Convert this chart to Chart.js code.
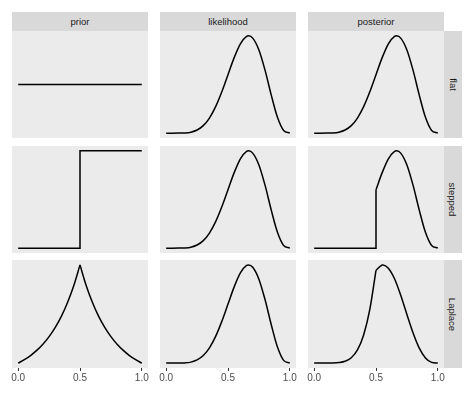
<!DOCTYPE html>
<html lang="en">
<head>
<meta charset="UTF-8">
<title>prior / likelihood / posterior</title>
<script src="https://cdn.jsdelivr.net/npm/chart.js"></script>
<style>
    body { margin: 0; background: #fff; font-family: "Liberation Sans", Arial, sans-serif; }
    #page { position: relative; width: 474px; height: 395px; }
    .panel { position: absolute; background: #EBEBEB; }
    .strip { position: absolute; background: #D9D9D9; color: #1A1A1A; font-size: 9.5px;
             display: flex; align-items: center; justify-content: center; }
    .strip.right span { transform: rotate(90deg); white-space: nowrap; }
    canvas { position: absolute; }
</style>
</head>
<body>
<div id="page"></div>

<script>
    // facet labels
    const columnNames = ['prior', 'likelihood', 'posterior'];
    const rowNames = ['flat', 'stepped', 'Laplace'];
    const xTicks = [0, 0.5, 1];

    // likelihood (peak scaled to 1)
    const gridX = [0, 0.05, 0.1, 0.15, 0.2, 0.25, 0.3, 0.35, 0.4, 0.45, 0.5, 0.55, 0.6, 0.65, 0.667, 0.7, 0.75, 0.8, 0.85, 0.9, 0.95, 1];
    const likelihood = [0, 0, 0.0002, 0.002, 0.010, 0.032, 0.077, 0.155, 0.272, 0.425, 0.601, 0.776, 0.918, 0.995, 1, 0.977, 0.855, 0.645, 0.391, 0.163, 0.028, 0];

    // flat prior
    const flatX = [0, 1];
    const flatPrior = [1, 1];

    // stepped prior (jump at 0.5)
    const stepX = [0, 0.5, 0.5, 1];
    const steppedPrior = [0, 0, 1, 1];
    const steppedPostLeftX = [0, 0.5, 0.5];
    const steppedPostLeft = [0, 0, 0.601];

    // Laplace prior, both halves
    const leftX = [0, 0.05, 0.1, 0.15, 0.2, 0.25, 0.3, 0.35, 0.4, 0.45, 0.5];
    const rightX = [0.5, 0.55, 0.6, 0.65, 0.7, 0.75, 0.8, 0.85, 0.9, 0.95, 1];
    const laplacePriorLeft = [0, 0.035, 0.077, 0.129, 0.192, 0.269, 0.363, 0.478, 0.619, 0.790, 1];
    const laplacePriorRight = [1, 0.790, 0.619, 0.478, 0.363, 0.269, 0.192, 0.129, 0.077, 0.035, 0];

    // Laplace posterior
    const laplacePostLeft = [0, 0, 0.0001, 0.0008, 0.005, 0.018, 0.054, 0.134, 0.287, 0.547, 0.945];
    const laplacePostRightX = [0.5, 0.55, 0.557, 0.6, 0.65, 0.7, 0.75, 0.8, 0.85, 0.9, 0.95, 1];
    const laplacePostRight = [0.945, 0.999, 1, 0.967, 0.859, 0.690, 0.495, 0.306, 0.152, 0.052, 0.007, 0];

    // layout
    const colLeft = [12, 160, 308];
    const colWidth = 136;
    const rowTop = [31, 146, 260];
    const rowHeight = [107, 107, 108];
    const stripTop = 12, stripH = 19;
    const stripRightX = 444, stripRightW = 18;
    const axisH = 22, sidePad = 10;

    const seg = (x, y) => ({ x: x, y: y });
    const iRight = gridX.indexOf(0.5);

    const panels = [
        [[seg(flatX, flatPrior)], [seg(gridX, likelihood)], [seg(gridX, likelihood)]],
        [[seg(stepX, steppedPrior)], [seg(gridX, likelihood)],
         [seg(steppedPostLeftX, steppedPostLeft), seg(gridX.slice(iRight), likelihood.slice(iRight))]],
        [[seg(leftX, laplacePriorLeft), seg(rightX, laplacePriorRight)], [seg(gridX, likelihood)],
         [seg(leftX, laplacePostLeft), seg(laplacePostRightX, laplacePostRight)]]
    ];

    Chart.defaults.font.family = '"Liberation Sans", Arial, sans-serif';

    const page = document.getElementById('page');

    function addDiv(cls, left, top, w, h, text) {
        const d = document.createElement('div');
        d.className = cls;
        d.style.left = left + 'px';
        d.style.top = top + 'px';
        d.style.width = w + 'px';
        d.style.height = h + 'px';
        if (text) {
            const s = document.createElement('span');
            s.textContent = text;
            d.appendChild(s);
        }
        page.appendChild(d);
    }

    // strips
    columnNames.forEach((name, c) => addDiv('strip', colLeft[c], stripTop, colWidth, stripH, name));
    rowNames.forEach((name, r) => addDiv('strip right', stripRightX, rowTop[r], stripRightW, rowHeight[r], name));

    // y range like ggplot free scales
    function yRange(segs) {
        let lo = Infinity, hi = -Infinity;
        segs.forEach(s => s.y.forEach(v => { lo = Math.min(lo, v); hi = Math.max(hi, v); }));
        if (hi - lo < 1e-9) return [lo - 0.5, hi + 0.5];
        const pad = (hi - lo) * 0.05;
        return [lo - pad, hi + pad];
    }

    panels.forEach((row, r) => {
        row.forEach((segs, c) => {
            const bottom = r === panels.length - 1;
            addDiv('panel', colLeft[c], rowTop[r], colWidth, rowHeight[r]);

            const cv = document.createElement('canvas');
            cv.width = colWidth + 2 * sidePad;
            cv.height = rowHeight[r] + (bottom ? axisH : 0);
            cv.style.left = (colLeft[c] - sidePad) + 'px';
            cv.style.top = rowTop[r] + 'px';
            page.appendChild(cv);

            const yr = yRange(segs);

            new Chart(cv.getContext('2d'), {
                type: 'line',
                data: {
                    datasets: segs.map(s => ({
                        data: s.x.map((x, i) => ({ x: x, y: s.y[i] })),
                        borderColor: '#000',
                        borderWidth: 1.5,
                        pointRadius: 0,
                        fill: false,
                        cubicInterpolationMode: 'monotone'
                    }))
                },
                options: {
                    responsive: false,
                    animation: false,
                    events: [],
                    layout: { padding: { left: sidePad, right: sidePad, top: 0, bottom: 0 } },
                    plugins: { legend: { display: false }, tooltip: { enabled: false } },
                    scales: {
                        x: {
                            type: 'linear',
                            min: -0.05,
                            max: 1.05,
                            display: bottom,
                            border: { display: false },
                            grid: { drawOnChartArea: false, drawTicks: true, tickLength: 3, color: '#333333', lineWidth: 1 },
                            ticks: { color: '#4D4D4D', font: { size: 10 }, padding: 1, maxRotation: 0,
                                     callback: v => v.toFixed(1) },
                            afterBuildTicks: s => { s.ticks = xTicks.map(v => ({ value: v })); },
                            afterFit: s => {
                                if (!bottom) return;
                                s.paddingLeft = 0; s.paddingRight = 0; s.height = axisH;
                            }
                        },
                        y: { display: false, min: yr[0], max: yr[1] }
                    }
                }
            });
        });
    });
</script>
</body>
</html>
